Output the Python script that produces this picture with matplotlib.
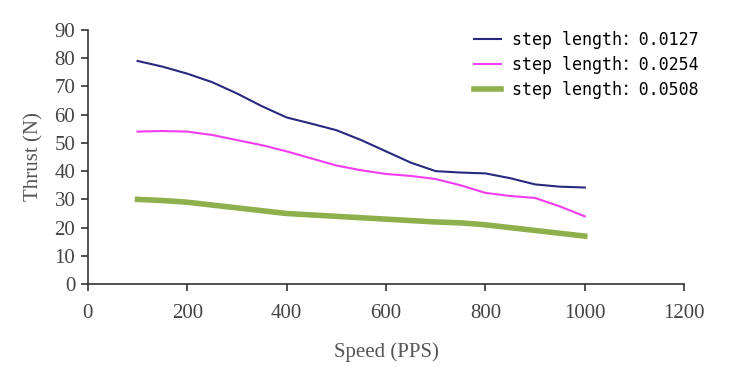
import numpy as np
import matplotlib.pyplot as plt

speed = [100, 150, 200, 250, 300, 350, 400, 450, 500, 550,
         600, 650, 700, 750, 800, 850, 900, 950, 1000]
thrust_0127 = [79, 77, 74.5, 71.5, 67.5, 63, 59, 56.8, 54.5, 51,
               47, 43, 40, 39.5, 39.2, 37.5, 35.3, 34.5, 34.2]
thrust_0254 = [54, 54.2, 54, 52.8, 51, 49.2, 47, 44.5, 42, 40.3,
               39, 38.3, 37.2, 35, 32.3, 31.2, 30.5, 27.5, 24]
thrust_0508 = [30, 29.6, 29, 28, 27, 26, 25, 24.5, 24, 23.5,
               23, 22.5, 22, 21.7, 21, 20, 19, 18, 17]
labels = ["step length\uff1a0.0127", "step length\uff1a0.0254", "step length\uff1a0.0508"]
xticks = [0, 200, 400, 600, 800, 1000, 1200]
yticks = list(range(0, 91, 10))

fig = plt.figure(figsize=(7.51, 3.69), dpi=100)
ax = fig.add_axes([0.117, 0.230, 0.794, 0.689])

ax.plot(speed, thrust_0127, color='#28287f', lw=1.5, label=labels[0])
ax.plot(speed, thrust_0254, color='#f23cf0', lw=1.5, label=labels[1])
ax.plot(speed, thrust_0508, color='#8db04c', lw=4, label=labels[2])

ax.set_xlim(0, 1200)
ax.set_ylim(0, 90)
ax.set_xticks(xticks)
ax.set_yticks(yticks)
for s in ['top', 'right']:
    ax.spines[s].set_visible(False)
for s in ['left', 'bottom']:
    ax.spines[s].set_color('#333333')
    ax.spines[s].set_linewidth(1.2)
ax.tick_params(direction='out', length=5, width=1.2, color='#333333',
               labelsize=15, labelcolor='#444444')
ax.tick_params(axis='x', pad=9)
ax.tick_params(axis='y', pad=4)
for t in ax.get_xticklabels() + ax.get_yticklabels():
    t.set_family('Liberation Serif')

ax.set_xlabel('Speed (PPS)', family='Liberation Serif', fontsize=15,
              color='#555555', labelpad=14)
ax.set_ylabel('Thrust (N)', family='Liberation Serif', fontsize=15,
              color='#555555', labelpad=8)

leg = ax.legend(loc='upper right', bbox_to_anchor=(1.05, 1.055), frameon=False,
                handlelength=1.6, handletextpad=0.7, labelspacing=0.42,
                prop={'family': ['DejaVu Sans Mono', 'Noto Sans CJK SC'], 'size': 12})

fig.savefig('out.png', dpi=100)
